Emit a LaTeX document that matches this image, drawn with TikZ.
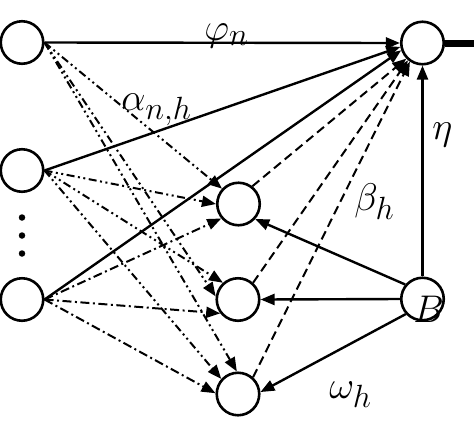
\documentclass[tikz,border=0pt]{standalone}
\usetikzlibrary{arrows.meta}
\begin{document}
\begin{tikzpicture}[x=1pt,y=-1pt,
  neuron/.style={circle,draw,line width=2.6pt,minimum size=42.5pt,inner sep=0pt,fill=white},
  tipA/.style={-{Triangle[length=14pt,width=11pt]}},
  conn/.style={line width=2.4pt,tipA},
  dd/.style={tipA,line width=2pt,dash pattern=on 8pt off 3.5pt on 2pt off 3.5pt on 2pt off 3.5pt},
  dotdash/.style={tipA,line width=2pt,dash pattern=on 9pt off 3.5pt on 2pt off 3.5pt},
  dsh/.style={tipA,line width=2pt,dash pattern=on 9pt off 5pt},
  lbl/.style={font=\Huge,scale=1.55,inner sep=0pt,anchor=base west},
  dotn/.style={circle,fill,minimum size=6.5pt,inner sep=0pt}]
\useasboundingbox (0,0) rectangle (474,440);
% nodes
\node[neuron] (I1) at (22,42.5) {};
\node[neuron] (I2) at (22,170.5) {};
\node[neuron] (I3) at (22,299.5) {};
\node[neuron] (H1) at (238.5,204) {};
\node[neuron] (H2) at (238,299.5) {};
\node[neuron] (H3) at (238,394) {};
\node[neuron] (O) at (422.5,43) {};
\node[neuron] (B) at (422.5,299) {};
\node[dotn] (d1) at (22,217.5) {};
\node[dotn] (d2) at (22,235.5) {};
\node[dotn] (d3) at (22,253.5) {};
\coordinate (out) at (474,43);
% output line
\draw[line width=7pt] (O.east) -- (out);
% input to output
\draw[conn] (I1.east) -- (O.west);
\draw[conn] (I2.east) -- (O.190);
\draw[conn] (I3.east) -- (O.199);
% input to hidden
\draw[dd] (I1.east) -- (H1.137);
\draw[dd] (I1.east) -- (H2.172);
\draw[dd] (I1.east) -- (H3.93);
\draw[dd] (I2.east) -- (H1.180);
\draw[dd] (I2.east) -- (H2.132);
\draw[dd] (I2.east) -- (H3.138);
\draw[dotdash] (I3.east) -- (H1.220);
\draw[dotdash] (I3.east) -- (H2.218);
\draw[dotdash] (I3.east) -- (H3.178);
% hidden to output
\draw[dsh] (H1.52) -- (O.224);
\draw[dsh] (H2.48) -- (O.230);
\draw[dsh] (H3.48) -- (O.236);
% bias
\draw[conn] (B.north) -- (O.south);
\draw[conn] (B.140) -- (H1.318);
\draw[conn] (B.west) -- (H2.east);
\draw[conn] (B.222) -- (H3.5);
% labels
\node[lbl] (lphi) at (204,40) {$\varphi_n$};
\node[lbl] (lalpha) at (121,110) {$\alpha_{n,h}$};
\node[lbl] (leta) at (432,139) {$\eta$};
\node[lbl] (lbeta) at (354,210) {$\beta_h$};
\node[lbl] (lomega) at (329,398) {$\omega_h$};
\node[lbl] (lB) at (413,322) {$B$};
\end{tikzpicture}
\end{document}
